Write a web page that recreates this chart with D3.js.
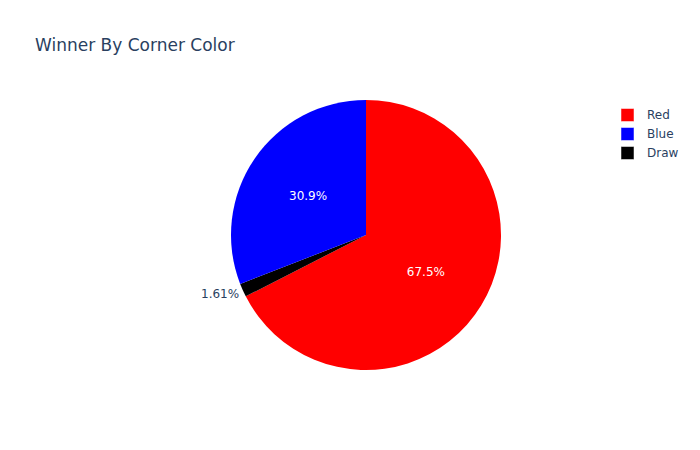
<!DOCTYPE html>
<html><head><meta charset="utf-8">
<script src="https://cdn.jsdelivr.net/npm/d3@7"></script>
<style>body{margin:0;background:#fff}svg{display:block}</style>
</head><body><svg id="c" width="700" height="450"></svg>
<script>
const labels = ["Red", "Draw", "Blue"];
const values = [67.5, 1.61, 30.9];
const colors = ["#ff0000", "#000000", "#0000ff"];
const legendOrder = ["Red", "Blue", "Draw"];
const title = "Winner By Corner Color";

const svg = d3.select("#c");
const font = '"DejaVu Sans", verdana, arial, sans-serif';
const cx = 366, cy = 235, r = 135;

svg.append("text").attr("x", 35).attr("y", 51).attr("font-family", font)
  .attr("font-size", 17).attr("fill", "#2a3f5f").text(title);

const data = labels.map((l, i) => ({label: l, value: values[i], color: colors[i]}));
const total = d3.sum(values);
const pie = d3.pie().sort(null).value(d => d.value);
const arcs = pie(data);
const arc = d3.arc().innerRadius(0).outerRadius(r);
const g = svg.append("g").attr("transform", `translate(${cx},${cy})`);
g.selectAll("path").data(arcs).join("path").attr("d", arc).attr("fill", d => d.data.color);

const fmt = d3.format(".3p");
arcs.forEach(a => {
  const frac = a.data.value / total;
  const mid = (a.startAngle + a.endAngle) / 2;
  if (frac > 0.05) {
    const d = r * 0.52;
    g.append("text").attr("x", d * Math.sin(mid)).attr("y", -d * Math.cos(mid))
      .attr("dy", "0.35em").attr("text-anchor", "middle").attr("font-family", font)
      .attr("font-size", 12).attr("fill", "#fff").text(fmt(frac));
  } else {
    const d = r + 4;
    g.append("text").attr("x", d * Math.sin(mid)).attr("y", -d * Math.cos(mid) + 2)
      .attr("dy", "0.35em").attr("text-anchor", Math.sin(mid) < 0 ? "end" : "start")
      .attr("font-family", font).attr("font-size", 12).attr("fill", "#2a3f5f").text(fmt(frac));
  }
});

const leg = svg.append("g");
legendOrder.forEach((l, i) => {
  const d = data.find(x => x.label === l);
  const y = 115 + i * 19;
  leg.append("rect").attr("x", 621.5).attr("y", y - 6).attr("width", 12).attr("height", 12)
    .attr("fill", d.color).attr("stroke", d3.color(d.color).brighter(0.6)).attr("stroke-opacity", 0.5).attr("stroke-width", 1);
  leg.append("text").attr("x", 647).attr("y", y).attr("dy", "0.35em").attr("font-family", font)
    .attr("font-size", 12).attr("fill", "#2a3f5f").text(l);
});
</script></body></html>
